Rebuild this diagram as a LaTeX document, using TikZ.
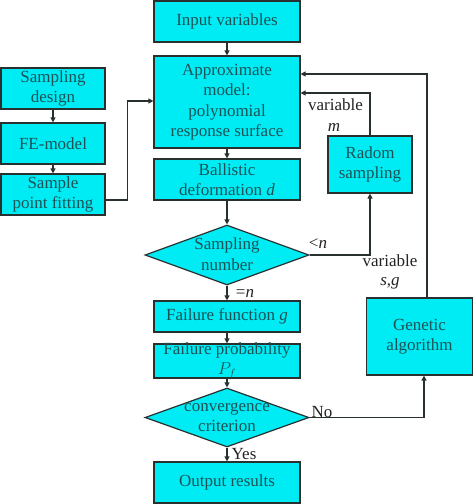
\documentclass[tikz,border=0pt]{standalone}
\usepackage{fontspec}
\setmainfont{Liberation Serif}
\usetikzlibrary{shapes.geometric,arrows.meta}
\definecolor{boxfill}{RGB}{0,236,244}
\definecolor{boxline}{RGB}{40,48,48}
\definecolor{boxtext}{RGB}{28,82,86}
\definecolor{lbltext}{RGB}{35,35,35}
\begin{document}
\begin{tikzpicture}[x=1pt,y=-1pt,
  every node/.style={font=\fontsize{17}{20.5}\selectfont},
  box/.style={draw=boxline,fill=boxfill,line width=1.2pt,rectangle,inner sep=0pt,align=center,text=boxtext},
  dbox/.style={draw=boxline,fill=boxfill,line width=1.2pt,diamond,inner sep=0pt,minimum width=164pt},
  intext/.style={text=boxtext,align=center,inner sep=0pt},
  lbl/.style={text=lbltext,inner sep=0pt},
  arr/.style={draw=boxline,line width=1.2pt,-{Triangle[length=5pt,width=5pt]}},
  ln/.style={draw=boxline,line width=1.2pt}]
\useasboundingbox (0,0) rectangle (474,504);
% main column
\node[box,minimum width=146pt,minimum height=41pt] (inp) at (227,21.5) {Input variables};
\node[box,minimum width=146pt,minimum height=92pt] (apx) at (227,102) {Approximate\\model:\\polynomial\\response surface};
\node[box,minimum width=146pt,minimum height=41pt] (bal) at (227,179.5) {Ballistic\\deformation \textit{d}};
\node[dbox,minimum height=60pt] (sn) at (227,255) {};
\node[intext] (snt) at (227,254) {Sampling\\number};
\node[box,minimum width=146pt,minimum height=31pt] (ff) at (227,316.5) {Failure function \textit{g}};
\node[box,minimum width=146pt,minimum height=34pt] (fp) at (227,361) {};
\node[intext] (fpt) at (227,361) {Failure probability\\$P_f$};
\node[dbox,minimum height=59pt] (cv) at (227,417.5) {};
\node[intext] (cvt) at (227,417) {convergence\\criterion};
\node[box,minimum width=146pt,minimum height=41pt] (out) at (227,482.5) {Output results};
% left column
\node[box,minimum width=104pt,minimum height=41pt] (sd) at (53,88.5) {Sampling\\design};
\node[box,minimum width=104pt,minimum height=41pt] (fe) at (53,143.5) {FE-model};
\node[box,minimum width=104pt,minimum height=41pt] (spf) at (53,194.5) {Sample\\point fitting};
% right column
\node[box,minimum width=84pt,minimum height=57pt] (rs) at (370,164.5) {Radom\\sampling};
\node[box,minimum width=106pt,minimum height=77pt] (ga) at (419.5,336.5) {Genetic\\algorithm};
% connectors
\draw[arr] (inp) -- (apx);
\draw[arr] (apx) -- (bal);
\draw[arr] (bal) -- (sn.north);
\draw[arr] (sn.south) -- (ff);
\draw[arr] (ff) -- (fp);
\draw[arr] (fp) -- (cv.north);
\draw[arr] (cv.south) -- (out);
\draw[arr] (sd) -- (fe);
\draw[arr] (fe) -- (spf);
\draw[arr] ([yshift=-5.5pt]spf.east) -- ++(22,0) |- ([yshift=1pt]apx.west);
\draw[arr] (rs.north) |- ([yshift=9pt]apx.east);
\draw[arr] (sn.east) -| (rs.south);
\draw[arr] ([xshift=7.5pt]ga.north) |- ([yshift=28pt]apx.east);
\draw[arr] (cv.east) -| ([xshift=4.5pt]ga.south);
% labels
\node[lbl] (l1) at (335.5,105) {variable};
\node[lbl] (l2) at (334,127) {\textit{m}};
\node[lbl] (l3) at (318,244) {<\textit{n}};
\node[lbl] (l4) at (390,261) {variable};
\node[lbl] (l5) at (390,283) {\textit{s},\textit{g}};
\node[lbl] (l6) at (245,293) {=\textit{n}};
\node[lbl] (l7) at (322,412) {No};
\node[lbl] (l8) at (244,454) {Yes};
\end{tikzpicture}
\end{document}
